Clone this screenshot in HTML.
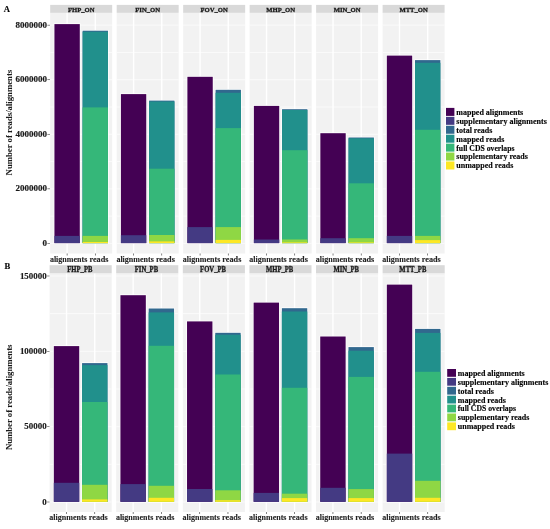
<!DOCTYPE html>
<html><head><meta charset="utf-8"><style>
html,body{margin:0;padding:0;background:#fff;width:550px;height:529px;overflow:hidden}
svg{display:block;will-change:transform;font-family:"Liberation Serif", serif;font-weight:bold}
text{stroke:#1A1A1A;stroke-width:0.15px}
</style></head><body>
<svg width="550" height="529" viewBox="0 0 550 529">
<rect x="50.20" y="4.90" width="62.00" height="8.00" fill="#D9D9D9"/>
<rect x="50.20" y="12.90" width="62.00" height="240.60" fill="#F2F2F2"/>
<text x="81.20" y="11.60" font-size="6.9" text-anchor="middle" fill="#1A1A1A" textLength="26.60" lengthAdjust="spacingAndGlyphs" style="stroke-width:0.3px">FHP_ON</text>
<rect x="50.20" y="242.95" width="62.00" height="0.90" fill="#FBFBFB"/>
<rect x="50.20" y="215.67" width="62.00" height="0.90" fill="#FBFBFB"/>
<rect x="50.20" y="188.39" width="62.00" height="0.90" fill="#FBFBFB"/>
<rect x="50.20" y="161.11" width="62.00" height="0.90" fill="#FBFBFB"/>
<rect x="50.20" y="133.83" width="62.00" height="0.90" fill="#FBFBFB"/>
<rect x="50.20" y="106.55" width="62.00" height="0.90" fill="#FBFBFB"/>
<rect x="50.20" y="79.27" width="62.00" height="0.90" fill="#FBFBFB"/>
<rect x="50.20" y="51.99" width="62.00" height="0.90" fill="#FBFBFB"/>
<rect x="50.20" y="24.71" width="62.00" height="0.90" fill="#FBFBFB"/>
<rect x="66.41" y="12.90" width="1.40" height="240.60" fill="#FFFFFF"/>
<rect x="94.59" y="12.90" width="1.40" height="240.60" fill="#FFFFFF"/>
<rect x="53.73" y="23.40" width="26.76" height="220.40" fill="#FFFFFF"/>
<rect x="54.43" y="24.10" width="25.36" height="219.00" fill="#440154"/>
<rect x="54.43" y="235.90" width="25.36" height="7.20" fill="#443A83"/>
<rect x="81.91" y="30.00" width="26.76" height="213.80" fill="#FFFFFF"/>
<rect x="82.61" y="30.70" width="25.36" height="212.40" fill="#31688E"/>
<rect x="82.61" y="31.70" width="25.36" height="211.40" fill="#21908C"/>
<rect x="82.61" y="107.40" width="25.36" height="135.70" fill="#35B779"/>
<rect x="82.61" y="235.90" width="25.36" height="7.20" fill="#8FD744"/>
<rect x="82.61" y="242.00" width="25.36" height="1.10" fill="#FDE725"/>
<rect x="66.81" y="253.50" width="0.60" height="2.00" fill="#333"/>
<rect x="94.99" y="253.50" width="0.60" height="2.00" fill="#333"/>
<text x="49.90" y="261.70" font-size="9.0" text-anchor="start" fill="#222" textLength="37.40" lengthAdjust="spacingAndGlyphs" style="stroke-width:0.1px;stroke:#222">alignments</text>
<text x="89.40" y="261.70" font-size="9.0" text-anchor="start" fill="#222" textLength="19.00" lengthAdjust="spacingAndGlyphs" style="stroke-width:0.1px;stroke:#222">reads</text>
<rect x="116.68" y="4.90" width="62.00" height="8.00" fill="#D9D9D9"/>
<rect x="116.68" y="12.90" width="62.00" height="240.60" fill="#F2F2F2"/>
<text x="147.68" y="11.60" font-size="6.9" text-anchor="middle" fill="#1A1A1A" textLength="24.76" lengthAdjust="spacingAndGlyphs" style="stroke-width:0.3px">FIN_ON</text>
<rect x="116.68" y="242.95" width="62.00" height="0.90" fill="#FBFBFB"/>
<rect x="116.68" y="215.67" width="62.00" height="0.90" fill="#FBFBFB"/>
<rect x="116.68" y="188.39" width="62.00" height="0.90" fill="#FBFBFB"/>
<rect x="116.68" y="161.11" width="62.00" height="0.90" fill="#FBFBFB"/>
<rect x="116.68" y="133.83" width="62.00" height="0.90" fill="#FBFBFB"/>
<rect x="116.68" y="106.55" width="62.00" height="0.90" fill="#FBFBFB"/>
<rect x="116.68" y="79.27" width="62.00" height="0.90" fill="#FBFBFB"/>
<rect x="116.68" y="51.99" width="62.00" height="0.90" fill="#FBFBFB"/>
<rect x="116.68" y="24.71" width="62.00" height="0.90" fill="#FBFBFB"/>
<rect x="132.89" y="12.90" width="1.40" height="240.60" fill="#FFFFFF"/>
<rect x="161.07" y="12.90" width="1.40" height="240.60" fill="#FFFFFF"/>
<rect x="120.21" y="93.40" width="26.76" height="150.40" fill="#FFFFFF"/>
<rect x="120.91" y="94.10" width="25.36" height="149.00" fill="#440154"/>
<rect x="120.91" y="235.20" width="25.36" height="7.90" fill="#443A83"/>
<rect x="148.39" y="99.90" width="26.76" height="143.90" fill="#FFFFFF"/>
<rect x="149.09" y="100.60" width="25.36" height="142.50" fill="#31688E"/>
<rect x="149.09" y="101.50" width="25.36" height="141.60" fill="#21908C"/>
<rect x="149.09" y="168.70" width="25.36" height="74.40" fill="#35B779"/>
<rect x="149.09" y="235.00" width="25.36" height="8.10" fill="#8FD744"/>
<rect x="149.09" y="241.40" width="25.36" height="1.70" fill="#FDE725"/>
<rect x="133.29" y="253.50" width="0.60" height="2.00" fill="#333"/>
<rect x="161.47" y="253.50" width="0.60" height="2.00" fill="#333"/>
<text x="116.38" y="261.70" font-size="9.0" text-anchor="start" fill="#222" textLength="37.40" lengthAdjust="spacingAndGlyphs" style="stroke-width:0.1px;stroke:#222">alignments</text>
<text x="155.88" y="261.70" font-size="9.0" text-anchor="start" fill="#222" textLength="19.00" lengthAdjust="spacingAndGlyphs" style="stroke-width:0.1px;stroke:#222">reads</text>
<rect x="183.16" y="4.90" width="62.00" height="8.00" fill="#D9D9D9"/>
<rect x="183.16" y="12.90" width="62.00" height="240.60" fill="#F2F2F2"/>
<text x="214.16" y="11.60" font-size="6.9" text-anchor="middle" fill="#1A1A1A" textLength="27.34" lengthAdjust="spacingAndGlyphs" style="stroke-width:0.3px">FOV_ON</text>
<rect x="183.16" y="242.95" width="62.00" height="0.90" fill="#FBFBFB"/>
<rect x="183.16" y="215.67" width="62.00" height="0.90" fill="#FBFBFB"/>
<rect x="183.16" y="188.39" width="62.00" height="0.90" fill="#FBFBFB"/>
<rect x="183.16" y="161.11" width="62.00" height="0.90" fill="#FBFBFB"/>
<rect x="183.16" y="133.83" width="62.00" height="0.90" fill="#FBFBFB"/>
<rect x="183.16" y="106.55" width="62.00" height="0.90" fill="#FBFBFB"/>
<rect x="183.16" y="79.27" width="62.00" height="0.90" fill="#FBFBFB"/>
<rect x="183.16" y="51.99" width="62.00" height="0.90" fill="#FBFBFB"/>
<rect x="183.16" y="24.71" width="62.00" height="0.90" fill="#FBFBFB"/>
<rect x="199.37" y="12.90" width="1.40" height="240.60" fill="#FFFFFF"/>
<rect x="227.55" y="12.90" width="1.40" height="240.60" fill="#FFFFFF"/>
<rect x="186.69" y="76.10" width="26.76" height="167.70" fill="#FFFFFF"/>
<rect x="187.39" y="76.80" width="25.36" height="166.30" fill="#440154"/>
<rect x="187.39" y="227.10" width="25.36" height="16.00" fill="#443A83"/>
<rect x="214.87" y="89.10" width="26.76" height="154.70" fill="#FFFFFF"/>
<rect x="215.57" y="89.80" width="25.36" height="153.30" fill="#31688E"/>
<rect x="215.57" y="92.80" width="25.36" height="150.30" fill="#21908C"/>
<rect x="215.57" y="128.10" width="25.36" height="115.00" fill="#35B779"/>
<rect x="215.57" y="227.10" width="25.36" height="16.00" fill="#8FD744"/>
<rect x="215.57" y="239.90" width="25.36" height="3.20" fill="#FDE725"/>
<rect x="199.77" y="253.50" width="0.60" height="2.00" fill="#333"/>
<rect x="227.95" y="253.50" width="0.60" height="2.00" fill="#333"/>
<text x="182.86" y="261.70" font-size="9.0" text-anchor="start" fill="#222" textLength="37.40" lengthAdjust="spacingAndGlyphs" style="stroke-width:0.1px;stroke:#222">alignments</text>
<text x="222.36" y="261.70" font-size="9.0" text-anchor="start" fill="#222" textLength="19.00" lengthAdjust="spacingAndGlyphs" style="stroke-width:0.1px;stroke:#222">reads</text>
<rect x="249.64" y="4.90" width="62.00" height="8.00" fill="#D9D9D9"/>
<rect x="249.64" y="12.90" width="62.00" height="240.60" fill="#F2F2F2"/>
<text x="280.64" y="11.60" font-size="6.9" text-anchor="middle" fill="#1A1A1A" textLength="28.81" lengthAdjust="spacingAndGlyphs" style="stroke-width:0.3px">MHP_ON</text>
<rect x="249.64" y="242.95" width="62.00" height="0.90" fill="#FBFBFB"/>
<rect x="249.64" y="215.67" width="62.00" height="0.90" fill="#FBFBFB"/>
<rect x="249.64" y="188.39" width="62.00" height="0.90" fill="#FBFBFB"/>
<rect x="249.64" y="161.11" width="62.00" height="0.90" fill="#FBFBFB"/>
<rect x="249.64" y="133.83" width="62.00" height="0.90" fill="#FBFBFB"/>
<rect x="249.64" y="106.55" width="62.00" height="0.90" fill="#FBFBFB"/>
<rect x="249.64" y="79.27" width="62.00" height="0.90" fill="#FBFBFB"/>
<rect x="249.64" y="51.99" width="62.00" height="0.90" fill="#FBFBFB"/>
<rect x="249.64" y="24.71" width="62.00" height="0.90" fill="#FBFBFB"/>
<rect x="265.85" y="12.90" width="1.40" height="240.60" fill="#FFFFFF"/>
<rect x="294.03" y="12.90" width="1.40" height="240.60" fill="#FFFFFF"/>
<rect x="253.17" y="105.20" width="26.76" height="138.60" fill="#FFFFFF"/>
<rect x="253.87" y="105.90" width="25.36" height="137.20" fill="#440154"/>
<rect x="253.87" y="239.50" width="25.36" height="3.60" fill="#443A83"/>
<rect x="281.35" y="108.50" width="26.76" height="135.30" fill="#FFFFFF"/>
<rect x="282.05" y="109.20" width="25.36" height="133.90" fill="#31688E"/>
<rect x="282.05" y="110.00" width="25.36" height="133.10" fill="#21908C"/>
<rect x="282.05" y="150.20" width="25.36" height="92.90" fill="#35B779"/>
<rect x="282.05" y="239.50" width="25.36" height="3.60" fill="#8FD744"/>
<rect x="282.05" y="242.40" width="25.36" height="0.70" fill="#FDE725"/>
<rect x="266.25" y="253.50" width="0.60" height="2.00" fill="#333"/>
<rect x="294.43" y="253.50" width="0.60" height="2.00" fill="#333"/>
<text x="249.34" y="261.70" font-size="9.0" text-anchor="start" fill="#222" textLength="37.40" lengthAdjust="spacingAndGlyphs" style="stroke-width:0.1px;stroke:#222">alignments</text>
<text x="288.84" y="261.70" font-size="9.0" text-anchor="start" fill="#222" textLength="19.00" lengthAdjust="spacingAndGlyphs" style="stroke-width:0.1px;stroke:#222">reads</text>
<rect x="316.12" y="4.90" width="62.00" height="8.00" fill="#D9D9D9"/>
<rect x="316.12" y="12.90" width="62.00" height="240.60" fill="#F2F2F2"/>
<text x="347.12" y="11.60" font-size="6.9" text-anchor="middle" fill="#1A1A1A" textLength="26.97" lengthAdjust="spacingAndGlyphs" style="stroke-width:0.3px">MIN_ON</text>
<rect x="316.12" y="242.95" width="62.00" height="0.90" fill="#FBFBFB"/>
<rect x="316.12" y="215.67" width="62.00" height="0.90" fill="#FBFBFB"/>
<rect x="316.12" y="188.39" width="62.00" height="0.90" fill="#FBFBFB"/>
<rect x="316.12" y="161.11" width="62.00" height="0.90" fill="#FBFBFB"/>
<rect x="316.12" y="133.83" width="62.00" height="0.90" fill="#FBFBFB"/>
<rect x="316.12" y="106.55" width="62.00" height="0.90" fill="#FBFBFB"/>
<rect x="316.12" y="79.27" width="62.00" height="0.90" fill="#FBFBFB"/>
<rect x="316.12" y="51.99" width="62.00" height="0.90" fill="#FBFBFB"/>
<rect x="316.12" y="24.71" width="62.00" height="0.90" fill="#FBFBFB"/>
<rect x="332.33" y="12.90" width="1.40" height="240.60" fill="#FFFFFF"/>
<rect x="360.51" y="12.90" width="1.40" height="240.60" fill="#FFFFFF"/>
<rect x="319.65" y="132.50" width="26.76" height="111.30" fill="#FFFFFF"/>
<rect x="320.35" y="133.20" width="25.36" height="109.90" fill="#440154"/>
<rect x="320.35" y="238.20" width="25.36" height="4.90" fill="#443A83"/>
<rect x="347.83" y="136.80" width="26.76" height="107.00" fill="#FFFFFF"/>
<rect x="348.53" y="137.50" width="25.36" height="105.60" fill="#31688E"/>
<rect x="348.53" y="138.30" width="25.36" height="104.80" fill="#21908C"/>
<rect x="348.53" y="183.30" width="25.36" height="59.80" fill="#35B779"/>
<rect x="348.53" y="238.20" width="25.36" height="4.90" fill="#8FD744"/>
<rect x="348.53" y="242.40" width="25.36" height="0.70" fill="#FDE725"/>
<rect x="332.73" y="253.50" width="0.60" height="2.00" fill="#333"/>
<rect x="360.91" y="253.50" width="0.60" height="2.00" fill="#333"/>
<text x="315.82" y="261.70" font-size="9.0" text-anchor="start" fill="#222" textLength="37.40" lengthAdjust="spacingAndGlyphs" style="stroke-width:0.1px;stroke:#222">alignments</text>
<text x="355.32" y="261.70" font-size="9.0" text-anchor="start" fill="#222" textLength="19.00" lengthAdjust="spacingAndGlyphs" style="stroke-width:0.1px;stroke:#222">reads</text>
<rect x="382.60" y="4.90" width="62.00" height="8.00" fill="#D9D9D9"/>
<rect x="382.60" y="12.90" width="62.00" height="240.60" fill="#F2F2F2"/>
<text x="413.60" y="11.60" font-size="6.9" text-anchor="middle" fill="#1A1A1A" textLength="28.45" lengthAdjust="spacingAndGlyphs" style="stroke-width:0.3px">MTT_ON</text>
<rect x="382.60" y="242.95" width="62.00" height="0.90" fill="#FBFBFB"/>
<rect x="382.60" y="215.67" width="62.00" height="0.90" fill="#FBFBFB"/>
<rect x="382.60" y="188.39" width="62.00" height="0.90" fill="#FBFBFB"/>
<rect x="382.60" y="161.11" width="62.00" height="0.90" fill="#FBFBFB"/>
<rect x="382.60" y="133.83" width="62.00" height="0.90" fill="#FBFBFB"/>
<rect x="382.60" y="106.55" width="62.00" height="0.90" fill="#FBFBFB"/>
<rect x="382.60" y="79.27" width="62.00" height="0.90" fill="#FBFBFB"/>
<rect x="382.60" y="51.99" width="62.00" height="0.90" fill="#FBFBFB"/>
<rect x="382.60" y="24.71" width="62.00" height="0.90" fill="#FBFBFB"/>
<rect x="398.81" y="12.90" width="1.40" height="240.60" fill="#FFFFFF"/>
<rect x="426.99" y="12.90" width="1.40" height="240.60" fill="#FFFFFF"/>
<rect x="386.13" y="54.90" width="26.76" height="188.90" fill="#FFFFFF"/>
<rect x="386.83" y="55.60" width="25.36" height="187.50" fill="#440154"/>
<rect x="386.83" y="235.90" width="25.36" height="7.20" fill="#443A83"/>
<rect x="414.31" y="59.40" width="26.76" height="184.40" fill="#FFFFFF"/>
<rect x="415.01" y="60.10" width="25.36" height="183.00" fill="#31688E"/>
<rect x="415.01" y="62.80" width="25.36" height="180.30" fill="#21908C"/>
<rect x="415.01" y="129.80" width="25.36" height="113.30" fill="#35B779"/>
<rect x="415.01" y="235.90" width="25.36" height="7.20" fill="#8FD744"/>
<rect x="415.01" y="240.10" width="25.36" height="3.00" fill="#FDE725"/>
<rect x="399.21" y="253.50" width="0.60" height="2.00" fill="#333"/>
<rect x="427.39" y="253.50" width="0.60" height="2.00" fill="#333"/>
<text x="382.30" y="261.70" font-size="9.0" text-anchor="start" fill="#222" textLength="37.40" lengthAdjust="spacingAndGlyphs" style="stroke-width:0.1px;stroke:#222">alignments</text>
<text x="421.80" y="261.70" font-size="9.0" text-anchor="start" fill="#222" textLength="19.00" lengthAdjust="spacingAndGlyphs" style="stroke-width:0.1px;stroke:#222">reads</text>
<rect x="47.40" y="243.10" width="2.60" height="0.60" fill="#444"/>
<text x="47.10" y="246.05" font-size="7.7" text-anchor="end" fill="#1A1A1A" textLength="4.50" lengthAdjust="spacingAndGlyphs">0</text>
<rect x="47.40" y="188.54" width="2.60" height="0.60" fill="#444"/>
<text x="47.10" y="191.49" font-size="7.7" text-anchor="end" fill="#1A1A1A" textLength="31.50" lengthAdjust="spacingAndGlyphs">2000000</text>
<rect x="47.40" y="133.98" width="2.60" height="0.60" fill="#444"/>
<text x="47.10" y="136.93" font-size="7.7" text-anchor="end" fill="#1A1A1A" textLength="31.50" lengthAdjust="spacingAndGlyphs">4000000</text>
<rect x="47.40" y="79.42" width="2.60" height="0.60" fill="#444"/>
<text x="47.10" y="82.37" font-size="7.7" text-anchor="end" fill="#1A1A1A" textLength="31.50" lengthAdjust="spacingAndGlyphs">6000000</text>
<rect x="47.40" y="24.86" width="2.60" height="0.60" fill="#444"/>
<text x="47.10" y="27.81" font-size="7.7" text-anchor="end" fill="#1A1A1A" textLength="31.50" lengthAdjust="spacingAndGlyphs">8000000</text>
<rect x="446.00" y="107.90" width="8.40" height="8.00" fill="#440154"/>
<text x="456.30" y="114.80" font-size="8.0" text-anchor="start" fill="#000">mapped alignments</text>
<rect x="446.00" y="116.83" width="8.40" height="8.00" fill="#443A83"/>
<text x="456.30" y="123.73" font-size="8.0" text-anchor="start" fill="#000">supplementary alignments</text>
<rect x="446.00" y="125.76" width="8.40" height="8.00" fill="#31688E"/>
<text x="456.30" y="132.66" font-size="8.0" text-anchor="start" fill="#000">total reads</text>
<rect x="446.00" y="134.69" width="8.40" height="8.00" fill="#21908C"/>
<text x="456.30" y="141.59" font-size="8.0" text-anchor="start" fill="#000">mapped reads</text>
<rect x="446.00" y="143.62" width="8.40" height="8.00" fill="#35B779"/>
<text x="456.30" y="150.52" font-size="8.0" text-anchor="start" fill="#000" textLength="58.20" lengthAdjust="spacingAndGlyphs">full CDS overlaps</text>
<rect x="446.00" y="152.55" width="8.40" height="8.00" fill="#8FD744"/>
<text x="456.30" y="159.45" font-size="8.0" text-anchor="start" fill="#000">supplementary reads</text>
<rect x="446.00" y="161.48" width="8.40" height="8.00" fill="#FDE725"/>
<text x="456.30" y="168.38" font-size="8.0" text-anchor="start" fill="#000">unmapped reads</text>
<rect x="49.60" y="265.20" width="62.10" height="8.30" fill="#D9D9D9"/>
<rect x="49.60" y="273.50" width="62.10" height="238.50" fill="#F2F2F2"/>
<text x="79.85" y="271.95" font-size="7.3" text-anchor="middle" fill="#1A1A1A" textLength="25.12" lengthAdjust="spacingAndGlyphs" style="stroke-width:0.3px">FHP_PB</text>
<rect x="49.60" y="501.55" width="62.10" height="0.90" fill="#FBFBFB"/>
<rect x="49.60" y="463.88" width="62.10" height="0.90" fill="#FBFBFB"/>
<rect x="49.60" y="426.22" width="62.10" height="0.90" fill="#FBFBFB"/>
<rect x="49.60" y="388.55" width="62.10" height="0.90" fill="#FBFBFB"/>
<rect x="49.60" y="350.88" width="62.10" height="0.90" fill="#FBFBFB"/>
<rect x="49.60" y="313.21" width="62.10" height="0.90" fill="#FBFBFB"/>
<rect x="49.60" y="275.55" width="62.10" height="0.90" fill="#FBFBFB"/>
<rect x="65.84" y="273.50" width="1.40" height="238.50" fill="#FFFFFF"/>
<rect x="94.06" y="273.50" width="1.40" height="238.50" fill="#FFFFFF"/>
<rect x="53.13" y="345.40" width="26.80" height="157.10" fill="#FFFFFF"/>
<rect x="53.83" y="346.10" width="25.40" height="155.70" fill="#440154"/>
<rect x="53.83" y="482.80" width="25.40" height="19.00" fill="#443A83"/>
<rect x="81.36" y="362.40" width="26.80" height="140.10" fill="#FFFFFF"/>
<rect x="82.06" y="363.10" width="25.40" height="138.70" fill="#31688E"/>
<rect x="82.06" y="365.10" width="25.40" height="136.70" fill="#21908C"/>
<rect x="82.06" y="402.00" width="25.40" height="99.80" fill="#35B779"/>
<rect x="82.06" y="484.80" width="25.40" height="17.00" fill="#8FD744"/>
<rect x="82.06" y="499.40" width="25.40" height="2.40" fill="#FDE725"/>
<rect x="66.24" y="512.00" width="0.60" height="2.00" fill="#333"/>
<rect x="94.46" y="512.00" width="0.60" height="2.00" fill="#333"/>
<text x="49.30" y="520.20" font-size="9.0" text-anchor="start" fill="#222" textLength="37.40" lengthAdjust="spacingAndGlyphs" style="stroke-width:0.1px;stroke:#222">alignments</text>
<text x="88.80" y="520.20" font-size="9.0" text-anchor="start" fill="#222" textLength="19.00" lengthAdjust="spacingAndGlyphs" style="stroke-width:0.1px;stroke:#222">reads</text>
<rect x="116.20" y="265.20" width="62.10" height="8.30" fill="#D9D9D9"/>
<rect x="116.20" y="273.50" width="62.10" height="238.50" fill="#F2F2F2"/>
<text x="146.45" y="271.95" font-size="7.3" text-anchor="middle" fill="#1A1A1A" textLength="23.28" lengthAdjust="spacingAndGlyphs" style="stroke-width:0.3px">FIN_PB</text>
<rect x="116.20" y="501.55" width="62.10" height="0.90" fill="#FBFBFB"/>
<rect x="116.20" y="463.88" width="62.10" height="0.90" fill="#FBFBFB"/>
<rect x="116.20" y="426.22" width="62.10" height="0.90" fill="#FBFBFB"/>
<rect x="116.20" y="388.55" width="62.10" height="0.90" fill="#FBFBFB"/>
<rect x="116.20" y="350.88" width="62.10" height="0.90" fill="#FBFBFB"/>
<rect x="116.20" y="313.21" width="62.10" height="0.90" fill="#FBFBFB"/>
<rect x="116.20" y="275.55" width="62.10" height="0.90" fill="#FBFBFB"/>
<rect x="132.44" y="273.50" width="1.40" height="238.50" fill="#FFFFFF"/>
<rect x="160.66" y="273.50" width="1.40" height="238.50" fill="#FFFFFF"/>
<rect x="119.73" y="294.50" width="26.80" height="208.00" fill="#FFFFFF"/>
<rect x="120.43" y="295.20" width="25.40" height="206.60" fill="#440154"/>
<rect x="120.43" y="484.10" width="25.40" height="17.70" fill="#443A83"/>
<rect x="147.96" y="307.80" width="26.80" height="194.70" fill="#FFFFFF"/>
<rect x="148.66" y="308.50" width="25.40" height="193.30" fill="#31688E"/>
<rect x="148.66" y="312.40" width="25.40" height="189.40" fill="#21908C"/>
<rect x="148.66" y="345.80" width="25.40" height="156.00" fill="#35B779"/>
<rect x="148.66" y="485.80" width="25.40" height="16.00" fill="#8FD744"/>
<rect x="148.66" y="497.80" width="25.40" height="4.00" fill="#FDE725"/>
<rect x="132.84" y="512.00" width="0.60" height="2.00" fill="#333"/>
<rect x="161.06" y="512.00" width="0.60" height="2.00" fill="#333"/>
<text x="115.90" y="520.20" font-size="9.0" text-anchor="start" fill="#222" textLength="37.40" lengthAdjust="spacingAndGlyphs" style="stroke-width:0.1px;stroke:#222">alignments</text>
<text x="155.40" y="520.20" font-size="9.0" text-anchor="start" fill="#222" textLength="19.00" lengthAdjust="spacingAndGlyphs" style="stroke-width:0.1px;stroke:#222">reads</text>
<rect x="182.80" y="265.20" width="62.10" height="8.30" fill="#D9D9D9"/>
<rect x="182.80" y="273.50" width="62.10" height="238.50" fill="#F2F2F2"/>
<text x="213.05" y="271.95" font-size="7.3" text-anchor="middle" fill="#1A1A1A" textLength="25.86" lengthAdjust="spacingAndGlyphs" style="stroke-width:0.3px">FOV_PB</text>
<rect x="182.80" y="501.55" width="62.10" height="0.90" fill="#FBFBFB"/>
<rect x="182.80" y="463.88" width="62.10" height="0.90" fill="#FBFBFB"/>
<rect x="182.80" y="426.22" width="62.10" height="0.90" fill="#FBFBFB"/>
<rect x="182.80" y="388.55" width="62.10" height="0.90" fill="#FBFBFB"/>
<rect x="182.80" y="350.88" width="62.10" height="0.90" fill="#FBFBFB"/>
<rect x="182.80" y="313.21" width="62.10" height="0.90" fill="#FBFBFB"/>
<rect x="182.80" y="275.55" width="62.10" height="0.90" fill="#FBFBFB"/>
<rect x="199.04" y="273.50" width="1.40" height="238.50" fill="#FFFFFF"/>
<rect x="227.26" y="273.50" width="1.40" height="238.50" fill="#FFFFFF"/>
<rect x="186.33" y="320.70" width="26.80" height="181.80" fill="#FFFFFF"/>
<rect x="187.03" y="321.40" width="25.40" height="180.40" fill="#440154"/>
<rect x="187.03" y="489.00" width="25.40" height="12.80" fill="#443A83"/>
<rect x="214.56" y="332.10" width="26.80" height="170.40" fill="#FFFFFF"/>
<rect x="215.26" y="332.80" width="25.40" height="169.00" fill="#31688E"/>
<rect x="215.26" y="334.70" width="25.40" height="167.10" fill="#21908C"/>
<rect x="215.26" y="374.50" width="25.40" height="127.30" fill="#35B779"/>
<rect x="215.26" y="490.30" width="25.40" height="11.50" fill="#8FD744"/>
<rect x="215.26" y="500.20" width="25.40" height="1.60" fill="#FDE725"/>
<rect x="199.44" y="512.00" width="0.60" height="2.00" fill="#333"/>
<rect x="227.66" y="512.00" width="0.60" height="2.00" fill="#333"/>
<text x="182.50" y="520.20" font-size="9.0" text-anchor="start" fill="#222" textLength="37.40" lengthAdjust="spacingAndGlyphs" style="stroke-width:0.1px;stroke:#222">alignments</text>
<text x="222.00" y="520.20" font-size="9.0" text-anchor="start" fill="#222" textLength="19.00" lengthAdjust="spacingAndGlyphs" style="stroke-width:0.1px;stroke:#222">reads</text>
<rect x="249.40" y="265.20" width="62.10" height="8.30" fill="#D9D9D9"/>
<rect x="249.40" y="273.50" width="62.10" height="238.50" fill="#F2F2F2"/>
<text x="279.65" y="271.95" font-size="7.3" text-anchor="middle" fill="#1A1A1A" textLength="27.34" lengthAdjust="spacingAndGlyphs" style="stroke-width:0.3px">MHP_PB</text>
<rect x="249.40" y="501.55" width="62.10" height="0.90" fill="#FBFBFB"/>
<rect x="249.40" y="463.88" width="62.10" height="0.90" fill="#FBFBFB"/>
<rect x="249.40" y="426.22" width="62.10" height="0.90" fill="#FBFBFB"/>
<rect x="249.40" y="388.55" width="62.10" height="0.90" fill="#FBFBFB"/>
<rect x="249.40" y="350.88" width="62.10" height="0.90" fill="#FBFBFB"/>
<rect x="249.40" y="313.21" width="62.10" height="0.90" fill="#FBFBFB"/>
<rect x="249.40" y="275.55" width="62.10" height="0.90" fill="#FBFBFB"/>
<rect x="265.64" y="273.50" width="1.40" height="238.50" fill="#FFFFFF"/>
<rect x="293.86" y="273.50" width="1.40" height="238.50" fill="#FFFFFF"/>
<rect x="252.93" y="301.90" width="26.80" height="200.60" fill="#FFFFFF"/>
<rect x="253.63" y="302.60" width="25.40" height="199.20" fill="#440154"/>
<rect x="253.63" y="492.90" width="25.40" height="8.90" fill="#443A83"/>
<rect x="281.16" y="307.50" width="26.80" height="195.00" fill="#FFFFFF"/>
<rect x="281.86" y="308.20" width="25.40" height="193.60" fill="#31688E"/>
<rect x="281.86" y="311.50" width="25.40" height="190.30" fill="#21908C"/>
<rect x="281.86" y="387.80" width="25.40" height="114.00" fill="#35B779"/>
<rect x="281.86" y="493.70" width="25.40" height="8.10" fill="#8FD744"/>
<rect x="281.86" y="498.10" width="25.40" height="3.70" fill="#FDE725"/>
<rect x="266.04" y="512.00" width="0.60" height="2.00" fill="#333"/>
<rect x="294.26" y="512.00" width="0.60" height="2.00" fill="#333"/>
<text x="249.10" y="520.20" font-size="9.0" text-anchor="start" fill="#222" textLength="37.40" lengthAdjust="spacingAndGlyphs" style="stroke-width:0.1px;stroke:#222">alignments</text>
<text x="288.60" y="520.20" font-size="9.0" text-anchor="start" fill="#222" textLength="19.00" lengthAdjust="spacingAndGlyphs" style="stroke-width:0.1px;stroke:#222">reads</text>
<rect x="316.00" y="265.20" width="62.10" height="8.30" fill="#D9D9D9"/>
<rect x="316.00" y="273.50" width="62.10" height="238.50" fill="#F2F2F2"/>
<text x="346.25" y="271.95" font-size="7.3" text-anchor="middle" fill="#1A1A1A" textLength="25.50" lengthAdjust="spacingAndGlyphs" style="stroke-width:0.3px">MIN_PB</text>
<rect x="316.00" y="501.55" width="62.10" height="0.90" fill="#FBFBFB"/>
<rect x="316.00" y="463.88" width="62.10" height="0.90" fill="#FBFBFB"/>
<rect x="316.00" y="426.22" width="62.10" height="0.90" fill="#FBFBFB"/>
<rect x="316.00" y="388.55" width="62.10" height="0.90" fill="#FBFBFB"/>
<rect x="316.00" y="350.88" width="62.10" height="0.90" fill="#FBFBFB"/>
<rect x="316.00" y="313.21" width="62.10" height="0.90" fill="#FBFBFB"/>
<rect x="316.00" y="275.55" width="62.10" height="0.90" fill="#FBFBFB"/>
<rect x="332.24" y="273.50" width="1.40" height="238.50" fill="#FFFFFF"/>
<rect x="360.46" y="273.50" width="1.40" height="238.50" fill="#FFFFFF"/>
<rect x="319.53" y="335.80" width="26.80" height="166.70" fill="#FFFFFF"/>
<rect x="320.23" y="336.50" width="25.40" height="165.30" fill="#440154"/>
<rect x="320.23" y="487.80" width="25.40" height="14.00" fill="#443A83"/>
<rect x="347.76" y="346.40" width="26.80" height="156.10" fill="#FFFFFF"/>
<rect x="348.46" y="347.10" width="25.40" height="154.70" fill="#31688E"/>
<rect x="348.46" y="350.70" width="25.40" height="151.10" fill="#21908C"/>
<rect x="348.46" y="376.90" width="25.40" height="124.90" fill="#35B779"/>
<rect x="348.46" y="489.10" width="25.40" height="12.70" fill="#8FD744"/>
<rect x="348.46" y="498.10" width="25.40" height="3.70" fill="#FDE725"/>
<rect x="332.64" y="512.00" width="0.60" height="2.00" fill="#333"/>
<rect x="360.86" y="512.00" width="0.60" height="2.00" fill="#333"/>
<text x="315.70" y="520.20" font-size="9.0" text-anchor="start" fill="#222" textLength="37.40" lengthAdjust="spacingAndGlyphs" style="stroke-width:0.1px;stroke:#222">alignments</text>
<text x="355.20" y="520.20" font-size="9.0" text-anchor="start" fill="#222" textLength="19.00" lengthAdjust="spacingAndGlyphs" style="stroke-width:0.1px;stroke:#222">reads</text>
<rect x="382.60" y="265.20" width="62.10" height="8.30" fill="#D9D9D9"/>
<rect x="382.60" y="273.50" width="62.10" height="238.50" fill="#F2F2F2"/>
<text x="412.85" y="271.95" font-size="7.3" text-anchor="middle" fill="#1A1A1A" textLength="26.97" lengthAdjust="spacingAndGlyphs" style="stroke-width:0.3px">MTT_PB</text>
<rect x="382.60" y="501.55" width="62.10" height="0.90" fill="#FBFBFB"/>
<rect x="382.60" y="463.88" width="62.10" height="0.90" fill="#FBFBFB"/>
<rect x="382.60" y="426.22" width="62.10" height="0.90" fill="#FBFBFB"/>
<rect x="382.60" y="388.55" width="62.10" height="0.90" fill="#FBFBFB"/>
<rect x="382.60" y="350.88" width="62.10" height="0.90" fill="#FBFBFB"/>
<rect x="382.60" y="313.21" width="62.10" height="0.90" fill="#FBFBFB"/>
<rect x="382.60" y="275.55" width="62.10" height="0.90" fill="#FBFBFB"/>
<rect x="398.84" y="273.50" width="1.40" height="238.50" fill="#FFFFFF"/>
<rect x="427.06" y="273.50" width="1.40" height="238.50" fill="#FFFFFF"/>
<rect x="386.13" y="283.90" width="26.80" height="218.60" fill="#FFFFFF"/>
<rect x="386.83" y="284.60" width="25.40" height="217.20" fill="#440154"/>
<rect x="386.83" y="453.60" width="25.40" height="48.20" fill="#443A83"/>
<rect x="414.36" y="328.20" width="26.80" height="174.30" fill="#FFFFFF"/>
<rect x="415.06" y="328.90" width="25.40" height="172.90" fill="#31688E"/>
<rect x="415.06" y="332.90" width="25.40" height="168.90" fill="#21908C"/>
<rect x="415.06" y="371.80" width="25.40" height="130.00" fill="#35B779"/>
<rect x="415.06" y="480.80" width="25.40" height="21.00" fill="#8FD744"/>
<rect x="415.06" y="497.80" width="25.40" height="4.00" fill="#FDE725"/>
<rect x="399.24" y="512.00" width="0.60" height="2.00" fill="#333"/>
<rect x="427.46" y="512.00" width="0.60" height="2.00" fill="#333"/>
<text x="382.30" y="520.20" font-size="9.0" text-anchor="start" fill="#222" textLength="37.40" lengthAdjust="spacingAndGlyphs" style="stroke-width:0.1px;stroke:#222">alignments</text>
<text x="421.80" y="520.20" font-size="9.0" text-anchor="start" fill="#222" textLength="19.00" lengthAdjust="spacingAndGlyphs" style="stroke-width:0.1px;stroke:#222">reads</text>
<rect x="47.10" y="501.70" width="2.40" height="0.60" fill="#444"/>
<text x="46.60" y="504.65" font-size="7.7" text-anchor="end" fill="#1A1A1A" textLength="4.45" lengthAdjust="spacingAndGlyphs">0</text>
<rect x="47.10" y="426.37" width="2.40" height="0.60" fill="#444"/>
<text x="46.60" y="429.31" font-size="7.7" text-anchor="end" fill="#1A1A1A" textLength="22.25" lengthAdjust="spacingAndGlyphs">50000</text>
<rect x="47.10" y="351.03" width="2.40" height="0.60" fill="#444"/>
<text x="46.60" y="353.98" font-size="7.7" text-anchor="end" fill="#1A1A1A" textLength="26.70" lengthAdjust="spacingAndGlyphs">100000</text>
<rect x="47.10" y="275.69" width="2.40" height="0.60" fill="#444"/>
<text x="46.60" y="278.64" font-size="7.7" text-anchor="end" fill="#1A1A1A" textLength="26.70" lengthAdjust="spacingAndGlyphs">150000</text>
<rect x="447.20" y="369.00" width="8.80" height="7.80" fill="#440154"/>
<text x="457.80" y="375.80" font-size="8.0" text-anchor="start" fill="#000">mapped alignments</text>
<rect x="447.20" y="377.90" width="8.80" height="7.80" fill="#443A83"/>
<text x="457.80" y="384.70" font-size="8.0" text-anchor="start" fill="#000">supplementary alignments</text>
<rect x="447.20" y="386.80" width="8.80" height="7.80" fill="#31688E"/>
<text x="457.80" y="393.60" font-size="8.0" text-anchor="start" fill="#000">total reads</text>
<rect x="447.20" y="395.70" width="8.80" height="7.80" fill="#21908C"/>
<text x="457.80" y="402.50" font-size="8.0" text-anchor="start" fill="#000">mapped reads</text>
<rect x="447.20" y="404.60" width="8.80" height="7.80" fill="#35B779"/>
<text x="457.80" y="411.40" font-size="8.0" text-anchor="start" fill="#000" textLength="58.20" lengthAdjust="spacingAndGlyphs">full CDS overlaps</text>
<rect x="447.20" y="413.50" width="8.80" height="7.80" fill="#8FD744"/>
<text x="457.80" y="420.30" font-size="8.0" text-anchor="start" fill="#000">supplementary reads</text>
<rect x="447.20" y="422.40" width="8.80" height="7.80" fill="#FDE725"/>
<text x="457.80" y="429.20" font-size="8.0" text-anchor="start" fill="#000">unmapped reads</text>
<text x="0.00" y="0.00" font-size="8.7" text-anchor="middle" fill="#1A1A1A" textLength="105.60" lengthAdjust="spacingAndGlyphs" style="stroke-width:0.05px" transform="translate(11.5,122.6) rotate(-90)">Number of reads/alignments</text>
<text x="0.00" y="0.00" font-size="8.7" text-anchor="middle" fill="#1A1A1A" textLength="105.60" lengthAdjust="spacingAndGlyphs" style="stroke-width:0.05px" transform="translate(11.8,397.3) rotate(-90)">Number of reads/alignments</text>
<text x="3.80" y="12.20" font-size="8.6" text-anchor="start" fill="#000">A</text>
<text x="4.60" y="268.70" font-size="8.6" text-anchor="start" fill="#000">B</text>
</svg>
</body></html>
